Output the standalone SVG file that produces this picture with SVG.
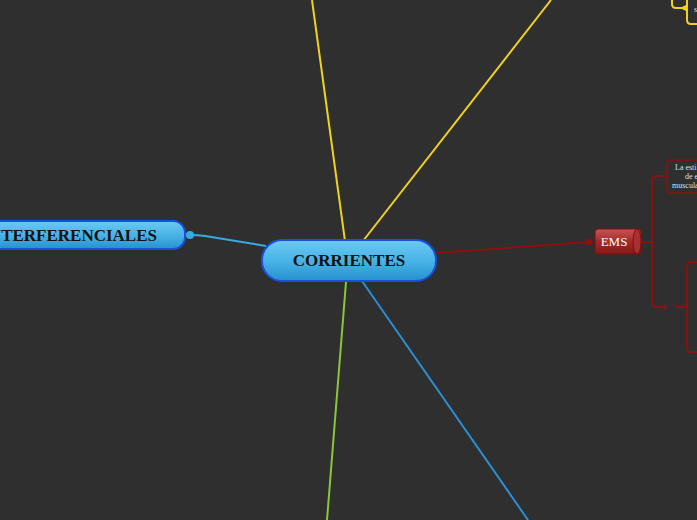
<svg xmlns="http://www.w3.org/2000/svg" width="697" height="520" viewBox="0 0 697 520">
<defs>
<linearGradient id="gb" x1="0" y1="0" x2="0" y2="1">
<stop offset="0" stop-color="#6ccaf2"/>
<stop offset="0.55" stop-color="#45b1e6"/>
<stop offset="1" stop-color="#2690cc"/>
</linearGradient>
<linearGradient id="gr" x1="0" y1="0" x2="0" y2="1">
<stop offset="0" stop-color="#c65555"/>
<stop offset="0.5" stop-color="#a52a2a"/>
<stop offset="1" stop-color="#861818"/>
</linearGradient>
<marker id="ar" viewBox="0 0 6 6" refX="5" refY="3" markerWidth="6" markerHeight="6" markerUnits="userSpaceOnUse" orient="auto">
<path d="M0,3 L6,0 L6,6 Z" fill="#8b1010"/>
</marker>
<marker id="ay" viewBox="0 0 6 6" refX="5" refY="3" markerWidth="6" markerHeight="6" markerUnits="userSpaceOnUse" orient="auto">
<path d="M0,3 L6,0 L6,6 Z" fill="#f0d21e"/>
</marker>
</defs>
<style>
.main{font-family:"Liberation Serif",serif;font-weight:bold;font-size:17px;fill:#111}
.ems{font-family:"Liberation Serif",serif;font-size:13px;fill:#fff}
.small{font-family:"Liberation Serif",serif;font-size:8px;fill:#cfe3f0}
.c{fill:none;stroke-width:2}
.y{stroke:#f0d21e}.r{stroke:#8b1010}.b{stroke:#2a8fd4}.lb{stroke:#38aae2}.g{stroke:#8cc43c}
</style>
<rect width="697" height="520" fill="#2f2f2f"/>
<g id="connectors">
<path class="c y" d="M345,241 L312,0"/>
<path class="c y" d="M363,241 L551,0"/>
<path class="c g" d="M346,282 L327,520"/>
<path class="c b" d="M362,281 L528,520"/>
<path class="c lb" d="M266,246 L205,236 Q198,235 190,235"/>
<circle cx="190" cy="235" r="4" fill="#38aae2"/>
<path class="c r" d="M436,253 L589,242"/>
<circle cx="589" cy="242" r="3.5" fill="#8b1010"/>
<path class="c r" d="M641,242 L652,242"/>
<path class="c r" d="M667,176 L656,176 Q652,176 652,180 L652,303 Q652,307 656,307 L665,307" marker-end="url(#ar)"/>
<path class="c r" d="M676,307 L687,307"/>
<path class="c r" d="M697,262 L691,262 Q687,262 687,266 L687,348 Q687,352 691,352 L697,352"/>
<path class="c y" d="M672,0 L672,4 Q672,8 676,8 L685,8" marker-end="url(#ay)"/>
<path class="c y" d="M687,0 L687,20 Q687,24 691,24 L697,24"/>
</g>
<g id="node-corrientes">
<rect x="262" y="240" width="174" height="41" rx="20" fill="url(#gb)" stroke="#1a4fe0" stroke-width="2"/>
<text class="main" x="349" y="266" text-anchor="middle">CORRIENTES</text>
</g>
<g id="node-interferenciales">
<rect x="-20" y="221" width="205" height="28" rx="12" fill="url(#gb)" stroke="#1a4fe0" stroke-width="2"/>
<text class="main" x="157" y="241" text-anchor="end">INTERFERENCIALES</text>
</g>
<g id="node-ems">
<rect x="595" y="229" width="46" height="25" rx="3" fill="url(#gr)" stroke="#7a1010" stroke-width="1"/>
<ellipse cx="637" cy="241.5" rx="4" ry="12.5" fill="#a83030" stroke="#7a1010" stroke-width="1"/>
<text class="ems" x="614" y="246" text-anchor="middle">EMS</text>
</g>
<g id="node-ems-desc">
<rect x="667" y="160" width="50" height="33" rx="4" fill="#2f2f2f" stroke="#8b1010" stroke-width="1.5"/>
<text class="small" x="675" y="170">La esti</text>
<text class="small" x="685" y="179">de e</text>
<text class="small" x="672" y="188">muscula</text>
</g>
<g id="node-top-right">
<text class="small" x="694" y="12">s</text>
</g>
</svg>
